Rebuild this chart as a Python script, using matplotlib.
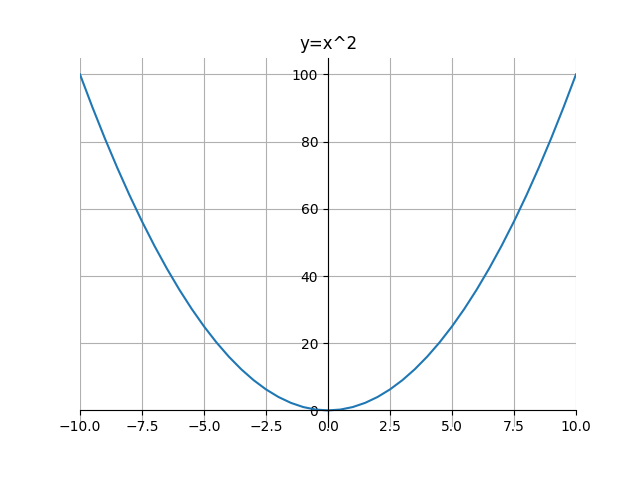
import matplotlib
matplotlib.use("Agg")
import matplotlib.pyplot as plt

x_vals = [-10, -9.5, -9, -8.5, -8, -7.5, -7, -6.5, -6, -5.5, -5, -4.5, -4, -3.5, -3, -2.5, -2, -1.5, -1, -0.5,
          0, 0.5, 1, 1.5, 2, 2.5, 3, 3.5, 4, 4.5, 5, 5.5, 6, 6.5, 7, 7.5, 8, 8.5, 9, 9.5, 10]
y_vals = [100, 90.25, 81, 72.25, 64, 56.25, 49, 42.25, 36, 30.25, 25, 20.25, 16, 12.25, 9, 6.25, 4, 2.25, 1, 0.25,
          0, 0.25, 1, 2.25, 4, 6.25, 9, 12.25, 16, 20.25, 25, 30.25, 36, 42.25, 49, 56.25, 64, 72.25, 81, 90.25, 100]

fig, ax = plt.subplots(figsize=(6.4, 4.8), dpi=100)
ax.plot(x_vals, y_vals, antialiased=True)
ax.set_xlim(-10, 10)
ax.spines['left'].set_position('zero')
ax.spines['bottom'].set_position('zero')
ax.spines['right'].set_visible(False)
ax.spines['top'].set_visible(False)
ax.grid(True)
ax.set_title("y=x^2")
fig.savefig("out.png")
